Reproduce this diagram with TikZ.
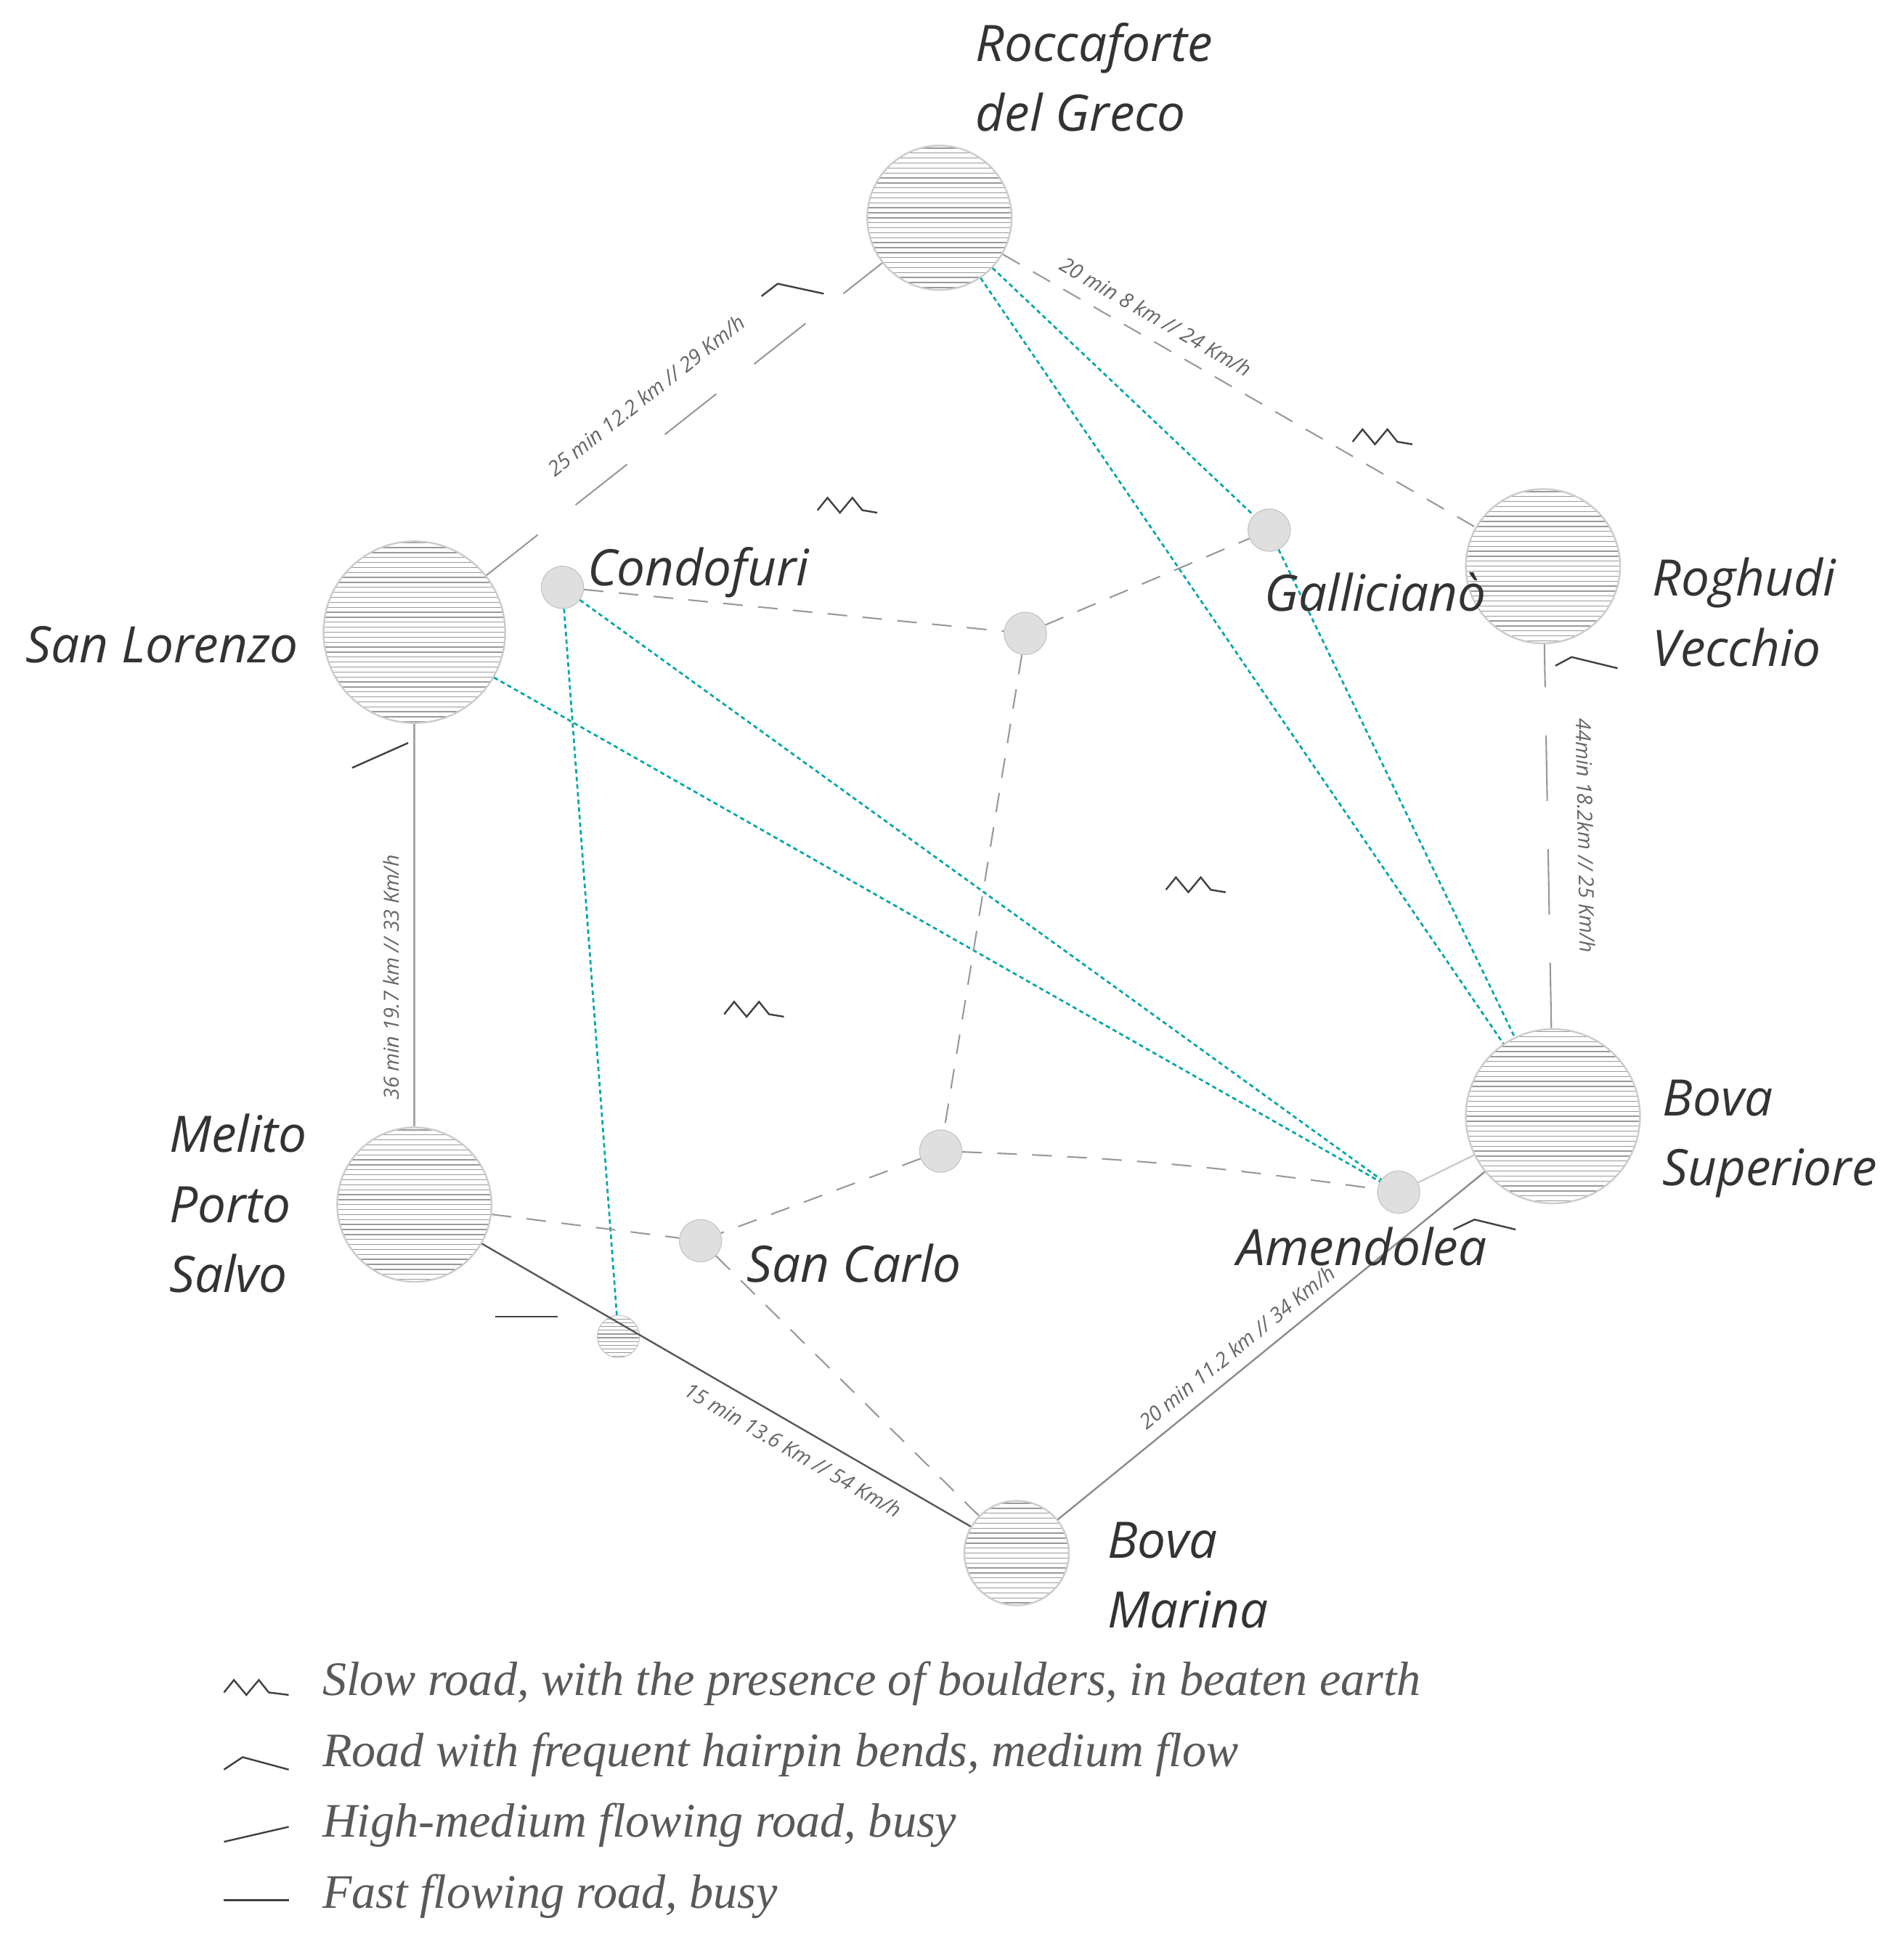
\documentclass[tikz,border=0pt]{standalone}
\usepackage{fontspec}
\setmainfont{Open Sans}
\newfontfamily\legfont{Liberation Serif}
\tikzset{
 big/.style={circle,draw=gray!40,line width=0.8pt,inner sep=0pt},
 small/.style={circle,fill=gray!25,draw=gray!45,inner sep=0pt,minimum size=34*0.02cm},
 lbl/.style={font=\itshape\fontsize{23}{32}\selectfont,text=black!80,align=left},
 elbl/.style={font=\itshape\fontsize{9.5}{11}\selectfont,text=black!60,sloped},
 dashroad/.style={draw=gray!80,line width=0.7pt,dash pattern=on 9pt off 7pt},
 longroad/.style={draw=gray!80,line width=0.7pt,dash pattern=on 30pt off 22pt},
 teal/.style={draw=teal!70!cyan,line width=0.9pt,dash pattern=on 2pt off 1.5pt},
 solidroad/.style={draw=gray!90,line width=0.8pt},
 sym/.style={draw=black!75,line width=0.8pt}
}
\newcommand{\hatchcirc}[3]{%
 \begin{scope}\clip (#1,#2) circle (#3);
 \foreach \yy in {-80,-76,...,80}{\draw[gray!80,line width=0.45pt] (#1-#3,#2+\yy)--(#1+#3,#2+\yy);}
 \end{scope}}
\begin{document}
\begin{tikzpicture}[x=0.02cm,y=-0.02cm]
\useasboundingbox (0,0) rectangle (1530,1571);
% hatched towns
\hatchcirc{755}{175}{58}\node[big,minimum size=116*0.02cm] (roc) at (755,175) {};
\hatchcirc{1240}{455}{62}\node[big,minimum size=124*0.02cm] (rog) at (1240,455) {};
\hatchcirc{333}{508}{73}\node[big,minimum size=146*0.02cm] (slo) at (333,508) {};
\hatchcirc{333}{968}{62}\node[big,minimum size=124*0.02cm] (mel) at (333,968) {};
\hatchcirc{1248}{897}{70}\node[big,minimum size=140*0.02cm] (bsu) at (1248,897) {};
\hatchcirc{817}{1248}{42}\node[big,minimum size=84*0.02cm] (bma) at (817,1248) {};
% small nodes
\node[small] (con) at (452,472) {};
\node[small] (c1) at (824,509) {};
\node[small] (gal) at (1020,426) {};
\node[small] (c2) at (756,925) {};
\node[small] (sca) at (563,997) {};
\node[small] (ame) at (1124,958) {};
\begin{scope}\clip (497,1074) circle (17);
\foreach \yy in {-17,-14,...,17}{\draw[gray!80,line width=0.45pt] (480,1074+\yy)--(514,1074+\yy);}\end{scope}
\node[circle,draw=gray!45,inner sep=0pt,minimum size=34*0.02cm] (sm) at (497,1074) {};
% main roads
\draw[dashroad] (roc) -- node[elbl,above=3pt,pos=0.3]{20 min 8 km // 24 Km/h} (rog);
\draw[longroad] (slo) -- node[elbl,above=12pt,pos=0.47]{25 min 12.2 km // 29 Km/h} (roc);
\draw[solidroad,draw=gray!70] (mel) -- node[elbl,above=3pt,pos=0.37]{36 min 19.7 km // 33 Km/h} (slo);
\draw[solidroad,draw=black!65] (mel) -- node[elbl,below=3pt,pos=0.66]{15 min 13.6 Km // 54 Km/h} (bma);
\draw[solidroad] (bma) -- node[elbl,above=2pt,pos=0.45]{20 min 11.2 km // 34 Km/h} (bsu);
\draw[longroad] (bsu) -- node[elbl,above=10pt,pos=0.5]{44min 18.2km // 25 Km/h} (rog);
% teal
\draw[teal] (roc) -- (bsu);
\draw[teal] (roc) -- (gal);
\draw[teal] (gal) -- (bsu);
\draw[teal] (slo) -- (ame);
\draw[teal] (con) -- (ame);
\draw[teal] (con) -- (sm);
% grey dashed
\draw[dashroad] (con) -- (c1);
\draw[dashroad] (c1) -- (gal);
\draw[dashroad] (c1) -- (c2);
\draw[dashroad] (c2) -- (sca);
\draw[dashroad] (c2) to[bend left=3] (ame);
\draw[dashroad] (mel) -- (sca);
\draw[dashroad] (sca) -- (bma);
\draw[gray!40,line width=0.8pt] (ame) -- (bsu);
% symbols
\foreach \p in {(657,405),(1087,350),(937,710),(582,810)}{
 \draw[sym] \p ++(0,5) -- ++(8,-10) -- ++(10,12) -- ++(10,-12) -- ++(8,10) -- ++(12,2);}
\draw[sym] (612,238) -- (625,228) -- (662,236);
\draw[sym] (1250,535) -- (1263,528) -- (1300,537);
\draw[sym] (1168,988) -- (1185,980) -- (1218,988);
\draw[sym] (283,617) -- (328,597);
\draw[sym] (398,1058) -- (448,1058);
% labels
\node[lbl,anchor=north west] (tr) at (778,12) {Roccaforte\\del Greco};
\node[lbl,anchor=west] (trog) at (1322,492) {Roghudi\\Vecchio};
\node[lbl,anchor=east] (tslo) at (246,518) {San Lorenzo};
\node[lbl,anchor=west] (tcon) at (466,460) {Condofuri};
\node[lbl,anchor=west] (tgal) at (1010,476) {Gallicianò};
\node[lbl,anchor=west] (tmel) at (130,967) {Melito\\Porto\\Salvo};
\node[lbl,anchor=west] (tbsu) at (1330,915) {Bova\\Superiore};
\node[lbl,anchor=west] (tame) at (988,1002) {Amendolea};
\node[lbl,anchor=west] (tsca) at (594,1015) {San Carlo};
\node[lbl,anchor=west] (tbma) at (884,1266) {Bova\\Marina};
% legend
\draw[sym] (180,1360) -- (188,1350) -- (198,1362) -- (208,1350) -- (216,1360) -- (232,1362);
\draw[sym] (180,1422) -- (195,1412) -- (232,1422);
\draw[sym] (180,1480) -- (232,1468);
\draw[sym] (180,1527) -- (232,1527);
\begin{scope}[every node/.style={anchor=west,font=\legfont\itshape\fontsize{22}{25}\selectfont,text=black!65}]
\node (l1) at (253,1353) {Slow road, with the presence of boulders, in beaten earth};
\node (l2) at (253,1410) {Road with frequent hairpin bends, medium flow};
\node (l3) at (253,1467) {High-medium flowing road, busy};
\node (l4) at (253,1524) {Fast flowing road, busy};
\end{scope}
\end{tikzpicture}
\end{document}
